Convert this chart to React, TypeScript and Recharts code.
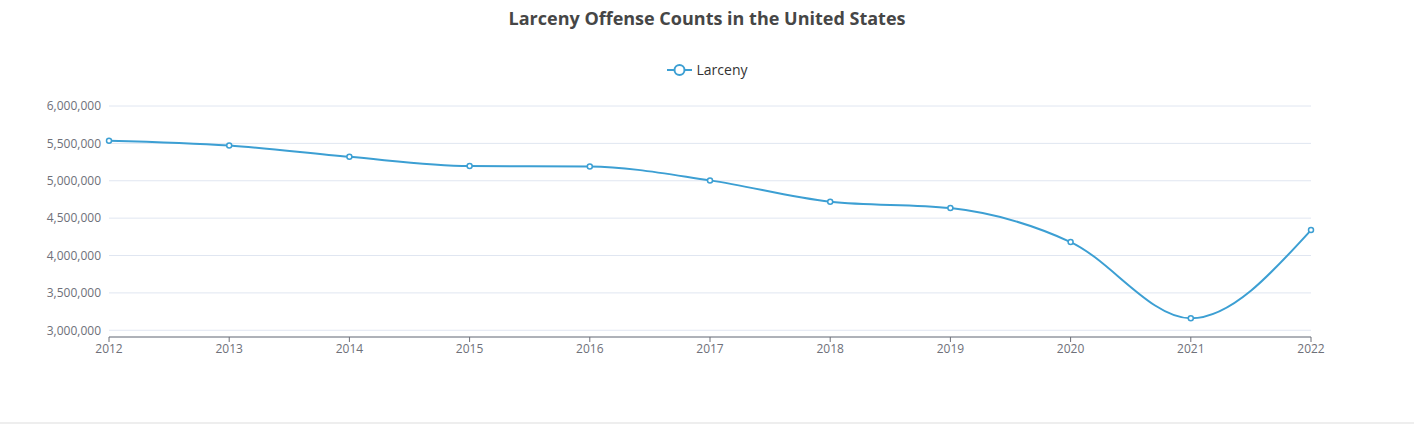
import React from 'react';
import { LineChart, Line, XAxis, YAxis, CartesianGrid } from 'recharts';

const years = ['2012', '2013', '2014', '2015', '2016', '2017', '2018', '2019', '2020', '2021', '2022'];
const larceny = [5535000, 5470000, 5320000, 5196000, 5190000, 5005000, 4720000, 4634000, 4180000, 3160000, 4340000];
const yTicks = [3000000, 3500000, 4000000, 4500000, 5000000, 5500000, 6000000];

const data = years.map((year, i) => ({ year, larceny: larceny[i] }));

const LINE_COLOR = '#3c9fd3';
const FONT = '"Open Sans", "Noto Sans", sans-serif';

function LegendItem() {
  return (
    <div
      style={{
        position: 'absolute',
        top: 60,
        left: 0,
        width: 1414,
        display: 'flex',
        alignItems: 'center',
        justifyContent: 'center',
        fontFamily: FONT,
      }}
    >
      <svg width={25} height={14} style={{ marginRight: 5 }}>
        <line x1={0} y1={7} x2={25} y2={7} stroke={LINE_COLOR} strokeWidth={2} />
        <circle cx={12.5} cy={7} r={5} fill="#fff" stroke={LINE_COLOR} strokeWidth={2} />
      </svg>
      <span style={{ fontSize: 14, color: '#333' }}>Larceny</span>
    </div>
  );
}

const fmt = (v: number) => v.toLocaleString('en-US');

export default function App() {
  return (
    <div style={{ position: 'absolute', left: 0, top: 0, width: 1414, height: 424, background: '#fff', fontFamily: FONT }}>
      <LineChart
        width={1414}
        height={424}
        data={data}
        margin={{ top: 106, right: 103, bottom: 57, left: 9 }}
      >
        <CartesianGrid vertical={false} stroke="#e0e6f1" />
        <XAxis
          dataKey="year"
          height={30}
          stroke="#6e7079"
          tick={{ fill: '#6e7079', fontSize: 12 }}
          tickSize={5}
          tickMargin={2}
          interval={0}
        />
        <YAxis
          width={100}
          domain={[2910000, 6000000]}
          ticks={yTicks}
          allowDataOverflow
          axisLine={false}
          tickLine={false}
          tickFormatter={fmt}
          tick={{ fill: '#6e7079', fontSize: 12 }}
        />
        <Line
          type="monotone"
          dataKey="larceny"
          name="Larceny"
          stroke={LINE_COLOR}
          strokeWidth={2}
          dot={{ r: 2.5, fill: '#fff', stroke: LINE_COLOR, strokeWidth: 1.5 }}
          isAnimationActive={false}
        />
      </LineChart>
      <div
        style={{
          position: 'absolute',
          top: 6,
          left: 0,
          width: 1414,
          textAlign: 'center',
          fontSize: 18,
          fontWeight: 700,
          color: '#464646',
        }}
      >
        Larceny Offense Counts in the United States
      </div>
      <LegendItem />
      <div style={{ position: 'absolute', left: 0, top: 422, width: 1414, height: 2, background: '#eee' }} />
    </div>
  );
}
